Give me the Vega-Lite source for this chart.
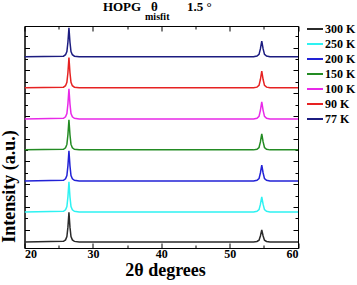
{
  "$schema": "https://vega.github.io/schema/vega-lite/v6.json",
  "autosize": {"type": "none"},
  "width": 273.5,
  "height": 222,
  "padding": {"left": 24.5, "top": 26, "right": 59, "bottom": 37},
  "config": {"view": {"stroke": "#000", "strokeWidth": 1}, "font": "Liberation Serif"},
  "title": {
    "text": "HOPG\u00a0\u00a0\u00a0θ\u00a0\u00a0\u00a0\u00a0\u00a0\u00a0\u00a0\u00a0\u00a01.5\u00a0°",
    "subtitle": "\u00a0\u00a0\u00a0\u00a0\u00a0\u00a0\u00a0\u00a0\u00a0\u00a0misfit",
    "font": "Liberation Serif", "fontSize": 13, "fontWeight": "bold", "color": "#000",
    "subtitleFont": "Liberation Serif", "subtitleFontSize": 10, "subtitleFontWeight": "bold", "subtitleColor": "#000",
    "anchor": "middle", "frame": "group", "dx": -4, "offset": -2, "subtitlePadding": -2
  },
  "layer": [
    {
      "data": {"values": [
        {"angle":20,"intensity":-1.07,"temp":"300 K"},{"angle":25.7,"intensity":-1.018,"temp":"300 K"},{"angle":26.0,"intensity":-0.888,"temp":"300 K"},{"angle":26.2,"intensity":-0.602,"temp":"300 K"},{"angle":26.35,"intensity":0.23,"temp":"300 K"},{"angle":26.5,"intensity":1.53,"temp":"300 K"},{"angle":26.65,"intensity":0.23,"temp":"300 K"},{"angle":26.8,"intensity":-0.602,"temp":"300 K"},{"angle":27.0,"intensity":-0.888,"temp":"300 K"},{"angle":27.3,"intensity":-1.018,"temp":"300 K"},{"angle":28,"intensity":-1.07,"temp":"300 K"},
        {"angle":53.5,"intensity":-1.07,"temp":"300 K"},{"angle":54.0,"intensity":-1.028,"temp":"300 K"},{"angle":54.3,"intensity":-0.913,"temp":"300 K"},{"angle":54.5,"intensity":-0.545,"temp":"300 K"},{"angle":54.7,"intensity":-0.02,"temp":"300 K"},{"angle":54.9,"intensity":-0.545,"temp":"300 K"},{"angle":55.1,"intensity":-0.913,"temp":"300 K"},{"angle":55.4,"intensity":-1.028,"temp":"300 K"},{"angle":55.9,"intensity":-1.07,"temp":"300 K"},{"angle":60,"intensity":-1.07,"temp":"300 K"},

        {"angle":20,"intensity":1.57,"temp":"250 K"},{"angle":25.7,"intensity":1.623,"temp":"250 K"},{"angle":26.0,"intensity":1.756,"temp":"250 K"},{"angle":26.2,"intensity":2.047,"temp":"250 K"},{"angle":26.35,"intensity":2.895,"temp":"250 K"},{"angle":26.5,"intensity":4.22,"temp":"250 K"},{"angle":26.65,"intensity":2.895,"temp":"250 K"},{"angle":26.8,"intensity":2.047,"temp":"250 K"},{"angle":27.0,"intensity":1.756,"temp":"250 K"},{"angle":27.3,"intensity":1.623,"temp":"250 K"},{"angle":28,"intensity":1.57,"temp":"250 K"},
        {"angle":53.5,"intensity":1.57,"temp":"250 K"},{"angle":54.0,"intensity":1.623,"temp":"250 K"},{"angle":54.3,"intensity":1.768,"temp":"250 K"},{"angle":54.5,"intensity":2.23,"temp":"250 K"},{"angle":54.7,"intensity":2.89,"temp":"250 K"},{"angle":54.9,"intensity":2.23,"temp":"250 K"},{"angle":55.1,"intensity":1.768,"temp":"250 K"},{"angle":55.4,"intensity":1.623,"temp":"250 K"},{"angle":55.9,"intensity":1.57,"temp":"250 K"},{"angle":60,"intensity":1.57,"temp":"250 K"},

        {"angle":20,"intensity":4.29,"temp":"200 K"},{"angle":25.7,"intensity":4.343,"temp":"200 K"},{"angle":26.0,"intensity":4.476,"temp":"200 K"},{"angle":26.2,"intensity":4.767,"temp":"200 K"},{"angle":26.35,"intensity":5.615,"temp":"200 K"},{"angle":26.5,"intensity":6.94,"temp":"200 K"},{"angle":26.65,"intensity":5.615,"temp":"200 K"},{"angle":26.8,"intensity":4.767,"temp":"200 K"},{"angle":27.0,"intensity":4.476,"temp":"200 K"},{"angle":27.3,"intensity":4.343,"temp":"200 K"},{"angle":28,"intensity":4.29,"temp":"200 K"},
        {"angle":53.5,"intensity":4.29,"temp":"200 K"},{"angle":54.0,"intensity":4.346,"temp":"200 K"},{"angle":54.3,"intensity":4.5,"temp":"200 K"},{"angle":54.5,"intensity":4.99,"temp":"200 K"},{"angle":54.7,"intensity":5.69,"temp":"200 K"},{"angle":54.9,"intensity":4.99,"temp":"200 K"},{"angle":55.1,"intensity":4.5,"temp":"200 K"},{"angle":55.4,"intensity":4.346,"temp":"200 K"},{"angle":55.9,"intensity":4.29,"temp":"200 K"},{"angle":60,"intensity":4.29,"temp":"200 K"},

        {"angle":20,"intensity":7.02,"temp":"150 K"},{"angle":25.7,"intensity":7.073,"temp":"150 K"},{"angle":26.0,"intensity":7.206,"temp":"150 K"},{"angle":26.2,"intensity":7.497,"temp":"150 K"},{"angle":26.35,"intensity":8.345,"temp":"150 K"},{"angle":26.5,"intensity":9.67,"temp":"150 K"},{"angle":26.65,"intensity":8.345,"temp":"150 K"},{"angle":26.8,"intensity":7.497,"temp":"150 K"},{"angle":27.0,"intensity":7.206,"temp":"150 K"},{"angle":27.3,"intensity":7.073,"temp":"150 K"},{"angle":28,"intensity":7.02,"temp":"150 K"},
        {"angle":53.5,"intensity":7.02,"temp":"150 K"},{"angle":54.0,"intensity":7.076,"temp":"150 K"},{"angle":54.3,"intensity":7.23,"temp":"150 K"},{"angle":54.5,"intensity":7.72,"temp":"150 K"},{"angle":54.7,"intensity":8.42,"temp":"150 K"},{"angle":54.9,"intensity":7.72,"temp":"150 K"},{"angle":55.1,"intensity":7.23,"temp":"150 K"},{"angle":55.4,"intensity":7.076,"temp":"150 K"},{"angle":55.9,"intensity":7.02,"temp":"150 K"},{"angle":60,"intensity":7.02,"temp":"150 K"},

        {"angle":20,"intensity":9.74,"temp":"100 K"},{"angle":25.7,"intensity":9.793,"temp":"100 K"},{"angle":26.0,"intensity":9.926,"temp":"100 K"},{"angle":26.2,"intensity":10.217,"temp":"100 K"},{"angle":26.35,"intensity":11.065,"temp":"100 K"},{"angle":26.5,"intensity":12.39,"temp":"100 K"},{"angle":26.65,"intensity":11.065,"temp":"100 K"},{"angle":26.8,"intensity":10.217,"temp":"100 K"},{"angle":27.0,"intensity":9.926,"temp":"100 K"},{"angle":27.3,"intensity":9.793,"temp":"100 K"},{"angle":28,"intensity":9.74,"temp":"100 K"},
        {"angle":53.5,"intensity":9.74,"temp":"100 K"},{"angle":54.0,"intensity":9.8,"temp":"100 K"},{"angle":54.3,"intensity":9.965,"temp":"100 K"},{"angle":54.5,"intensity":10.49,"temp":"100 K"},{"angle":54.7,"intensity":11.24,"temp":"100 K"},{"angle":54.9,"intensity":10.49,"temp":"100 K"},{"angle":55.1,"intensity":9.965,"temp":"100 K"},{"angle":55.4,"intensity":9.8,"temp":"100 K"},{"angle":55.9,"intensity":9.74,"temp":"100 K"},{"angle":60,"intensity":9.74,"temp":"100 K"},

        {"angle":20,"intensity":12.47,"temp":"90 K"},{"angle":25.7,"intensity":12.523,"temp":"90 K"},{"angle":26.0,"intensity":12.656,"temp":"90 K"},{"angle":26.2,"intensity":12.947,"temp":"90 K"},{"angle":26.35,"intensity":13.795,"temp":"90 K"},{"angle":26.5,"intensity":15.12,"temp":"90 K"},{"angle":26.65,"intensity":13.795,"temp":"90 K"},{"angle":26.8,"intensity":12.947,"temp":"90 K"},{"angle":27.0,"intensity":12.656,"temp":"90 K"},{"angle":27.3,"intensity":12.523,"temp":"90 K"},{"angle":28,"intensity":12.47,"temp":"90 K"},
        {"angle":53.5,"intensity":12.47,"temp":"90 K"},{"angle":54.0,"intensity":12.528,"temp":"90 K"},{"angle":54.3,"intensity":12.689,"temp":"90 K"},{"angle":54.5,"intensity":13.2,"temp":"90 K"},{"angle":54.7,"intensity":13.93,"temp":"90 K"},{"angle":54.9,"intensity":13.2,"temp":"90 K"},{"angle":55.1,"intensity":12.689,"temp":"90 K"},{"angle":55.4,"intensity":12.528,"temp":"90 K"},{"angle":55.9,"intensity":12.47,"temp":"90 K"},{"angle":60,"intensity":12.47,"temp":"90 K"},

        {"angle":20,"intensity":15.2,"temp":"77 K"},{"angle":25.7,"intensity":15.251,"temp":"77 K"},{"angle":26.0,"intensity":15.379,"temp":"77 K"},{"angle":26.2,"intensity":15.659,"temp":"77 K"},{"angle":26.35,"intensity":16.475,"temp":"77 K"},{"angle":26.5,"intensity":17.75,"temp":"77 K"},{"angle":26.65,"intensity":16.475,"temp":"77 K"},{"angle":26.8,"intensity":15.659,"temp":"77 K"},{"angle":27.0,"intensity":15.379,"temp":"77 K"},{"angle":27.3,"intensity":15.251,"temp":"77 K"},{"angle":28,"intensity":15.2,"temp":"77 K"},
        {"angle":53.5,"intensity":15.2,"temp":"77 K"},{"angle":54.0,"intensity":15.255,"temp":"77 K"},{"angle":54.3,"intensity":15.406,"temp":"77 K"},{"angle":54.5,"intensity":15.885,"temp":"77 K"},{"angle":54.7,"intensity":16.57,"temp":"77 K"},{"angle":54.9,"intensity":15.885,"temp":"77 K"},{"angle":55.1,"intensity":15.406,"temp":"77 K"},{"angle":55.4,"intensity":15.255,"temp":"77 K"},{"angle":55.9,"intensity":15.2,"temp":"77 K"},{"angle":60,"intensity":15.2,"temp":"77 K"}
      ]},
      "mark": {"type": "line", "strokeWidth": 1.5, "clip": true},
      "encoding": {
        "x": {"field": "angle", "type": "quantitative",
          "scale": {"domain": [20, 60], "nice": false, "zero": false},
          "axis": {"orient": "bottom", "values": [20, 25, 30, 35, 40, 45, 50, 55, 60],
            "tickSize": {"condition": {"test": "datum.value % 10 === 0", "value": -5}, "value": -3},
            "labelExpr": "datum.value % 10 === 0 ? datum.label : ''",
            "grid": false, "domainColor": "#000", "tickColor": "#000",
            "labelFont": "Liberation Serif", "labelFontSize": 12, "labelFontWeight": "bold", "labelColor": "#000", "labelPadding": 5,
            "title": "2θ degrees", "titleFont": "Liberation Serif", "titleFontSize": 18, "titleFontWeight": "bold", "titleColor": "#000",
            "titleX": 140.5, "titlePadding": 2}},
        "y": {"field": "intensity", "type": "quantitative",
          "scale": {"domain": [-1.6, 17.9], "nice": false, "zero": false},
          "axis": {"orient": "left", "values": [0,1,2,3,4,5,6,7,8,9,10,11,12,13,14,15,16,17],
            "tickSize": {"condition": {"test": "datum.value % 2 === 0", "value": -5}, "value": -3},
            "labels": false, "grid": false, "domainColor": "#000", "tickColor": "#000",
            "title": "Intensity (a.u.)", "titleFont": "Liberation Serif", "titleFontSize": 18, "titleFontWeight": "bold", "titleColor": "#000",
            "titleY": 160, "titlePadding": 6}},
        "color": {"field": "temp", "type": "nominal",
          "scale": {"domain": ["300 K", "250 K", "200 K", "150 K", "100 K", "90 K", "77 K"],
                    "range": ["#2b2b2b", "#2ef2f2", "#2222d6", "#238b23", "#e829e8", "#e62222", "#1c1c80"]},
          "legend": {"orient": "none", "legendX": 281.5, "legendY": -6, "title": null,
            "symbolType": "stroke", "symbolStrokeWidth": 2, "symbolSize": 256, "padding": 0,
            "rowPadding": -2, "labelOffset": 1,
            "labelFont": "Liberation Serif", "labelFontSize": 12, "labelFontWeight": "bold", "labelColor": "#000"}}
      }
    },
    {
      "data": {"values": []},
      "mark": {"type": "rule"},
      "encoding": {
        "x": {"field": "angle", "type": "quantitative",
          "scale": {"domain": [20, 60], "nice": false, "zero": false},
          "axis": {"orient": "top", "values": [20, 25, 30, 35, 40, 45, 50, 55, 60],
            "tickSize": {"condition": {"test": "datum.value % 10 === 0", "value": -5}, "value": -3},
            "labels": false, "grid": false, "title": null, "domainColor": "#000", "tickColor": "#000"}},
        "y": {"field": "intensity", "type": "quantitative",
          "scale": {"domain": [-1.6, 17.9], "nice": false, "zero": false},
          "axis": {"orient": "right", "values": [0,1,2,3,4,5,6,7,8,9,10,11,12,13,14,15,16,17],
            "tickSize": {"condition": {"test": "datum.value % 2 === 0", "value": -5}, "value": -3},
            "labels": false, "grid": false, "title": null, "domainColor": "#000", "tickColor": "#000"}}
      }
    }
  ],
  "resolve": {"scale": {"x": "independent", "y": "independent"}, "axis": {"x": "independent", "y": "independent"}}
}
